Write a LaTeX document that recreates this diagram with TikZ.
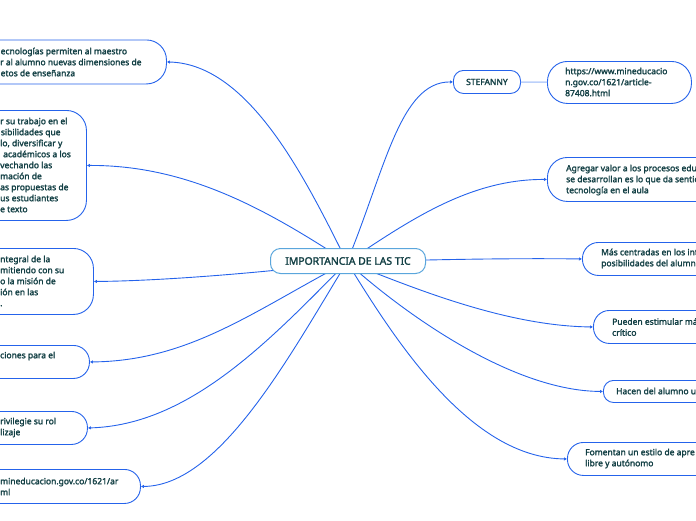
\documentclass[tikz,border=0pt]{standalone}
\usepackage{fontspec}
\setmainfont{Noto Sans}[FakeBold=2]
\usetikzlibrary{arrows.meta}
\definecolor{linkblue}{HTML}{2563EB}
\definecolor{inktext}{HTML}{123F44}
\definecolor{rootline}{HTML}{5AA6DC}
\definecolor{palelink}{HTML}{BBD0FA}
\newcommand{\ltx}[2]{\hspace*{#1pt}#2}
\tikzset{
  branch/.style={draw=linkblue,line width=0.9pt,-{Latex[length=3pt,width=3.5pt]}},
  topic/.style={draw=linkblue,line width=0.9pt,fill=white,inner sep=0pt,anchor=north west},
  words/.style={text=inktext,font=\fontsize{8.5}{11}\selectfont,align=left,inner sep=0pt,anchor=west},
}
\begin{document}
\begin{tikzpicture}[x=1pt,y=-1pt]
\useasboundingbox (0,0) rectangle (696,520);
\node[topic,rounded corners=20pt,minimum width=246pt,minimum height=44pt] (a) at (-80,39.5) {};
\node[topic,rounded corners=20pt,minimum width=166pt,minimum height=110pt] (b) at (-80,110) {};
\node[topic,rounded corners=20pt,minimum width=173pt,minimum height=66pt] (c) at (-80,248) {};
\node[topic,rounded corners=16pt,minimum width=169pt,minimum height=33pt] (d) at (-80,345) {};
\node[topic,rounded corners=16pt,minimum width=167pt,minimum height=33pt] (e) at (-80,411) {};
\node[topic,rounded corners=16pt,minimum width=220pt,minimum height=34pt] (f) at (-80,469) {};
\node[topic,rounded corners=10pt,minimum width=67pt,minimum height=23pt] (s) at (453,70) {};
\node[topic,rounded corners=20pt,minimum width=144pt,minimum height=42pt] (u) at (547,61) {};
\node[topic,rounded corners=20pt,minimum width=260pt,minimum height=44pt] (g) at (547,157) {};
\node[topic,rounded corners=16pt,minimum width=220pt,minimum height=33pt] (h) at (582,242) {};
\node[topic,rounded corners=16pt,minimum width=220pt,minimum height=33pt] (i) at (593,310) {};
\node[topic,rounded corners=10pt,minimum width=220pt,minimum height=22pt] (j) at (603,380) {};
\node[topic,rounded corners=16pt,minimum width=240pt,minimum height=33pt] (k) at (567,442) {};
\coordinate (hub) at (347,262);
\draw[branch] (hub) .. controls (307,182) and (250,64) .. (a.east);
\draw[branch] (hub) .. controls (270,212) and (190,165) .. (b.east);
\draw[branch] (hub) .. controls (290,270) and (170,281) .. (c.east);
\draw[branch] (hub) .. controls (255,310) and (190,361) .. (d.east);
\draw[branch] (hub) .. controls (270,340) and (190,425) .. (e.east);
\draw[branch] (hub) .. controls (290,355) and (220,486) .. (f.east);
\draw[branch] (hub) .. controls (385,170) and (400,81.5) .. (s.west);
\draw[branch] (hub) .. controls (410,220) and (470,179) .. (g.west);
\draw[branch] (hub) .. controls (420,260) and (500,258) .. (h.west);
\draw[branch] (hub) .. controls (400,282) and (500,326) .. (i.west);
\draw[branch] (hub) .. controls (400,310) and (510,391) .. (j.west);
\draw[branch] (hub) .. controls (395,340) and (470,458) .. (k.west);
\draw[palelink,line width=1.4pt] (s) -- (u);
\node[draw=rootline,line width=1pt,fill=white,rounded corners=10pt,inner sep=0pt,anchor=north west,minimum width=155pt,minimum height=25pt] (root) at (270,248) {};
\node[text=inktext,font=\fontsize{10.4}{11}\selectfont,inner sep=0pt] (rootlabel) at (root.center) {IMPORTANCIA DE LAS TIC};
\node[words] (at) at (0,62) {\ltx{0.5}{ecnologías permiten al maestro}\\\ltx{0}{r al alumno nuevas dimensiones de}\\\ltx{0.5}{etos de enseñanza}};
\node[words] (bt) at (0,165) {\ltx{0}{r su trabajo en el}\\\ltx{0.7}{sibilidades que}\\\ltx{0}{lo, diversificar y}\\\ltx{3}{académicos a los}\\\ltx{0}{vechando las}\\\ltx{0}{mación de}\\\ltx{0}{as propuestas de}\\\ltx{0}{us estudiantes}\\\ltx{0}{e texto}};
\node[words] (ct) at (0,281) {\ltx{0}{ntegral de la}\\\ltx{0}{mitiendo con su}\\\ltx{0}{o la misión de}\\\ltx{0}{ión en las}\\\ltx{0}{.}};
\node[words] (dt) at (0,356) {ciones para el};
\node[words] (et) at (0,427.5) {rivilegie su rol\\lizaje};
\node[words] (ft) at (0,486.5) {\ltx{0}{mineducacion.gov.co/1621/ar}\\\ltx{0}{ml}};
\node[words,anchor=center] (st) at (s.center) {STEFANNY};
\node[words] (ut) at (565,82) {https://www.mineducacio\\n.gov.co/1621/article-\\87408.html};
\node[words] (gt) at (566,180) {Agregar valor a los procesos educ\\se desarrollan es lo que da sentic\\tecnología en el aula};
\node[words] (ht) at (601,258.5) {Más centradas en los int\\posibilidades del alumn};
\node[words] (it) at (612,327) {Pueden estimular má\\crítico};
\node[words] (jt) at (616,391) {Hacen del alumno u};
\node[words] (kt) at (585,458.5) {Fomentan un estilo de apre\\libre y autónomo};
\end{tikzpicture}
\end{document}
